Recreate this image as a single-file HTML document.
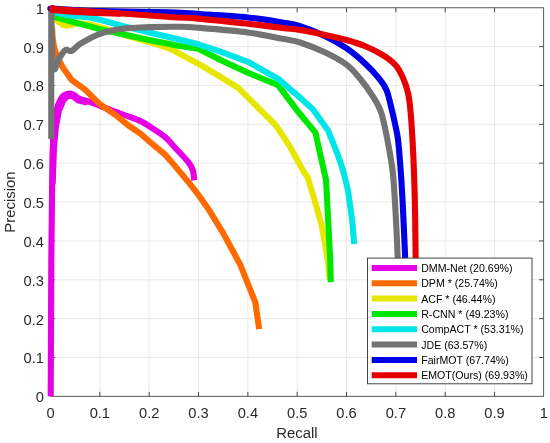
<!DOCTYPE html>
<html><head><meta charset="utf-8"><title>Precision-Recall</title>
<style>html,body{margin:0;padding:0;background:#fff}body{width:550px;height:443px;position:relative;overflow:hidden;font-family:"Liberation Sans",sans-serif}svg text{font-family:"Liberation Sans",sans-serif}</style></head>
<body>
<svg width="550" height="443" viewBox="0 0 550 443" style="position:absolute;left:0;top:0">
<rect width="550" height="443" fill="#fff"/>
<path d="M99.84 7.75V396.35M50.50 357.49H543.60M149.18 7.75V396.35M50.50 318.63H543.60M198.52 7.75V396.35M50.50 279.77H543.60M247.86 7.75V396.35M50.50 240.91H543.60M297.20 7.75V396.35M50.50 202.05H543.60M346.54 7.75V396.35M50.50 163.19H543.60M395.88 7.75V396.35M50.50 124.33H543.60M445.22 7.75V396.35M50.50 85.47H543.60M494.56 7.75V396.35M50.50 46.61H543.60" stroke="#e6e6e6" stroke-width="0.9" fill="none"/>
<rect x="50.50" y="7.75" width="493.10" height="388.60" fill="none" stroke="#5a5a5a" stroke-width="1"/>
<path d="M99.84 396.35v-4.5M99.84 7.75v4.5M50.50 357.49h4.5M543.60 357.49h-4.5M149.18 396.35v-4.5M149.18 7.75v4.5M50.50 318.63h4.5M543.60 318.63h-4.5M198.52 396.35v-4.5M198.52 7.75v4.5M50.50 279.77h4.5M543.60 279.77h-4.5M247.86 396.35v-4.5M247.86 7.75v4.5M50.50 240.91h4.5M543.60 240.91h-4.5M297.20 396.35v-4.5M297.20 7.75v4.5M50.50 202.05h4.5M543.60 202.05h-4.5M346.54 396.35v-4.5M346.54 7.75v4.5M50.50 163.19h4.5M543.60 163.19h-4.5M395.88 396.35v-4.5M395.88 7.75v4.5M50.50 124.33h4.5M543.60 124.33h-4.5M445.22 396.35v-4.5M445.22 7.75v4.5M50.50 85.47h4.5M543.60 85.47h-4.5M494.56 396.35v-4.5M494.56 7.75v4.5M50.50 46.61h4.5M543.60 46.61h-4.5" stroke="#4a4a4a" stroke-width="1" fill="none"/>
<clipPath id="c"><rect x="46.90" y="3.75" width="499.40" height="393.20"/></clipPath>
<g clip-path="url(#c)" fill="none" stroke-linejoin="round" stroke-linecap="butt">
<path d="M52.72 182.62 L53.95 147.65 L55.93 126.27 L58.89 110.73 L63.33 100.24 L68.26 95.57 L73.20 96.35 L78.13 100.24 L85.04 102.18" stroke="#e600e6" stroke-width="6.1" stroke-linecap="round"/>
<path d="M50.70 396.35 L51.29 260.34 L52.47 155.42 L53.71 127.44 L55.68 115.00 C56.05 113.38 56.71 108.40 57.90 105.29 C59.09 102.18 61.11 98.29 62.84 96.35 C64.56 94.41 66.54 93.95 68.26 93.63 C69.99 93.31 71.63 93.70 73.20 94.41 C74.76 95.12 76.24 97.06 77.64 97.91 C79.03 98.75 79.45 98.75 81.58 99.46 C83.72 100.17 87.44 101.14 90.47 102.18 C93.49 103.22 95.55 104.06 99.74 105.68 C103.94 107.30 110.93 110.13 115.63 111.89 C120.33 113.66 123.77 114.69 127.96 116.25 C132.16 117.80 137.22 119.55 140.79 121.22 C144.36 122.89 145.22 123.55 149.38 126.27 C153.53 128.99 161.38 133.92 165.71 137.54 C170.03 141.17 171.63 144.02 175.33 148.03 C179.03 152.05 184.99 157.94 187.91 161.64 C190.83 165.33 191.80 167.08 192.85 170.18 C193.89 173.29 193.96 178.60 194.18 180.29" stroke="#e600e6" stroke-width="6.1"/>
<path d="M51.98 27.18 L52.72 38.84 L53.95 46.61 L55.93 53.60 L62.84 67.59 L71.72 80.03 L85.38 89.90 L99.74 104.12 L115.53 115.00 L127.96 125.11 L140.64 133.77 L149.38 141.43 L165.71 155.18 L175.33 166.38 L187.91 181.45 L198.67 195.21 L209.28 210.29 L223.19 233.14 L240.46 265.08 L255.41 302.70 L259.16 329.12" stroke="#ff6a00" stroke-width="6.1"/>
<path d="M51.49 13.58 L56.42 20.19 L62.84 24.85 L66.78 25.63 L72.70 24.46 L77.64 23.29 L89.97 24.46 L99.84 27.18 L124.51 34.95 L149.18 41.95 L170.40 48.75 L202.96 66.43 L237.99 87.69 L260.59 110.26 L275.74 125.11 L289.11 145.31 L302.87 170.30 L307.81 177.57 L315.31 202.59 L321.62 225.21 L325.32 245.18 L327.79 260.34 L329.76 279.77" stroke="#e6e600" stroke-width="6.1"/>
<path d="M51.49 11.64 L55.43 17.08 L67.77 20.57 L89.97 26.40 L99.84 29.32 L149.18 40.00 L178.29 45.83 L198.52 48.75 L220.53 60.06 L247.86 72.65 L278.15 85.16 L296.71 109.95 L315.46 132.65 L320.39 155.18 L326.06 180.02 L327.79 212.62 L329.07 237.80 L330.26 260.34 L330.75 282.10" stroke="#00e600" stroke-width="6.1"/>
<path d="M51.49 9.69 L56.42 12.80 L67.77 15.13 L89.97 17.47 L99.84 19.80 L124.51 26.40 L149.18 32.43 L178.29 39.23 L198.52 44.28 L220.53 51.66 L247.86 61.77 L278.15 78.86 L297.20 95.19 L312.84 109.17 L327.94 130.16 L337.95 155.18 L343.04 170.30 L347.92 190.00 L352.46 222.65 L354.19 244.02" stroke="#00e6e6" stroke-width="6.1"/>
<path d="M51.24 139.10 L51.24 9.69 L52.47 69.93 L54.94 69.15 L58.89 58.66 C59.96 57.23 63.16 51.40 65.30 50.11 C67.44 48.81 69.25 51.92 71.72 50.88 C74.18 49.85 75.42 46.74 80.10 43.89 C84.79 41.04 92.69 36.31 99.84 33.79 C106.99 31.26 114.81 29.85 123.03 28.73 C131.25 27.62 139.97 27.43 149.18 27.10 C158.39 26.78 170.07 26.68 178.29 26.79 C186.51 26.90 186.93 26.82 198.52 27.76 C210.11 28.71 233.88 30.62 247.86 32.46 C261.84 34.31 273.68 37.17 282.40 38.84 C291.11 40.51 293.01 40.20 300.16 42.49 C307.31 44.78 317.59 48.86 325.32 52.56 C333.05 56.25 340.70 60.26 346.54 64.68 C352.38 69.10 355.96 73.78 360.36 79.06 C364.75 84.34 369.55 91.15 372.89 96.35 C376.23 101.55 378.47 105.47 380.39 110.26 C382.30 115.06 382.89 118.46 384.38 125.11 C385.88 131.76 387.92 141.86 389.37 150.17 C390.81 158.49 392.03 164.60 393.07 175.00 C394.10 185.41 394.83 199.24 395.58 212.62 C396.34 226.00 397.15 244.10 397.61 255.29 C398.07 266.48 398.22 275.69 398.35 279.77" stroke="#737373" stroke-width="6.1"/>
<path d="M50.50 7.75 L52.47 8.53 C56.26 8.79 67.28 9.66 75.17 10.08 C83.06 10.50 83.97 10.66 99.84 11.05 C115.71 11.44 153.95 11.93 170.40 12.41 C186.84 12.90 185.61 13.13 198.52 13.97 C211.43 14.81 233.88 16.04 247.86 17.47 C261.84 18.89 273.68 21.07 282.40 22.52 C291.11 23.97 293.01 23.88 300.16 26.17 C307.31 28.46 317.59 32.58 325.32 36.27 C333.05 39.97 339.88 43.79 346.54 48.36 C353.20 52.93 359.99 58.82 365.29 63.71 C370.59 68.60 374.83 73.29 378.36 77.70 C381.90 82.10 384.24 84.71 386.51 90.13 C388.77 95.56 390.49 104.56 391.93 110.26 C393.37 115.96 394.11 119.34 395.14 124.33 C396.17 129.32 397.18 132.52 398.10 140.18 C399.02 147.85 399.93 160.31 400.67 170.30 C401.41 180.29 401.81 185.94 402.54 200.11 C403.27 214.27 404.52 242.01 405.06 255.29 C405.59 268.57 405.63 275.69 405.75 279.77" stroke="#0000e6" stroke-width="6.1"/>
<circle cx="50.01" cy="8.53" r="2.7" fill="#0000e6" stroke="none"/>
<path d="M52.47 9.89 L65.30 11.25 L89.97 12.61 L119.58 13.58" stroke="#e60000" stroke-width="6.1" stroke-linecap="round"/>
<circle cx="52.47" cy="8.33" r="3.4" fill="#e60000" stroke="none"/>
<path d="M50.50 7.75 L52.47 8.92 C60.37 9.43 80.19 10.68 99.84 12.02 C119.49 13.37 153.95 15.86 170.40 16.96 C186.84 18.06 185.61 17.51 198.52 18.63 C211.43 19.75 233.88 22.13 247.86 23.68 C261.84 25.24 273.68 26.91 282.40 27.96 C291.11 29.01 293.01 28.81 300.16 29.98 C307.31 31.14 317.59 33.28 325.32 34.95 C333.05 36.62 339.88 38.13 346.54 40.00 C353.20 41.88 359.23 43.70 365.29 46.22 C371.35 48.75 377.89 52.02 382.90 55.16 C387.92 58.30 392.05 61.31 395.39 65.07 C398.73 68.82 400.85 73.10 402.94 77.70 C405.02 82.30 406.67 87.23 407.92 92.66 C409.17 98.09 409.58 100.71 410.44 110.26 C411.29 119.82 412.32 135.00 413.05 149.98 C413.78 164.95 414.40 182.56 414.83 200.11 C415.25 217.66 415.44 242.01 415.62 255.29 C415.79 268.57 415.82 275.69 415.86 279.77" stroke="#e60000" stroke-width="6.1"/>
</g>
<rect x="367.5" y="258.1" width="164.50" height="125.70" fill="#fff" stroke="#333" stroke-width="0.9"/>
<path d="M371.7 267.90H417" stroke="#e600e6" stroke-width="6.0" fill="none"/>
<text x="421.2" y="272.00" font-size="10.62" fill="#000">DMM-Net (20.69%)</text>
<path d="M371.7 283.24H417" stroke="#ff6a00" stroke-width="6.0" fill="none"/>
<text x="421.2" y="287.34" font-size="10.62" fill="#000">DPM * (25.74%)</text>
<path d="M371.7 298.59H417" stroke="#e6e600" stroke-width="6.0" fill="none"/>
<text x="421.2" y="302.69" font-size="10.62" fill="#000">ACF * (46.44%)</text>
<path d="M371.7 313.93H417" stroke="#00e600" stroke-width="6.0" fill="none"/>
<text x="421.2" y="318.03" font-size="10.62" fill="#000">R-CNN * (49.23%)</text>
<path d="M371.7 329.27H417" stroke="#00e6e6" stroke-width="6.0" fill="none"/>
<text x="421.2" y="333.37" font-size="10.62" fill="#000">CompACT * (53.31%)</text>
<path d="M371.7 344.61H417" stroke="#737373" stroke-width="6.0" fill="none"/>
<text x="421.2" y="348.71" font-size="10.62" fill="#000">JDE (63.57%)</text>
<path d="M371.7 359.96H417" stroke="#0000e6" stroke-width="6.0" fill="none"/>
<text x="421.2" y="364.06" font-size="10.62" fill="#000">FairMOT (67.74%)</text>
<path d="M371.7 375.30H417" stroke="#e60000" stroke-width="6.0" fill="none"/>
<text x="421.2" y="379.40" font-size="10.62" fill="#000">EMOT(Ours) (69.93%)</text>
<text x="50.50" y="417.8" font-size="14.7" fill="#2a2a2a" text-anchor="middle">0</text>
<text x="44" y="402.35" font-size="14.7" fill="#2a2a2a" text-anchor="end">0</text>
<text x="99.84" y="417.8" font-size="14.7" fill="#2a2a2a" text-anchor="middle">0.1</text>
<text x="44" y="363.49" font-size="14.7" fill="#2a2a2a" text-anchor="end">0.1</text>
<text x="149.18" y="417.8" font-size="14.7" fill="#2a2a2a" text-anchor="middle">0.2</text>
<text x="44" y="324.63" font-size="14.7" fill="#2a2a2a" text-anchor="end">0.2</text>
<text x="198.52" y="417.8" font-size="14.7" fill="#2a2a2a" text-anchor="middle">0.3</text>
<text x="44" y="285.77" font-size="14.7" fill="#2a2a2a" text-anchor="end">0.3</text>
<text x="247.86" y="417.8" font-size="14.7" fill="#2a2a2a" text-anchor="middle">0.4</text>
<text x="44" y="246.91" font-size="14.7" fill="#2a2a2a" text-anchor="end">0.4</text>
<text x="297.20" y="417.8" font-size="14.7" fill="#2a2a2a" text-anchor="middle">0.5</text>
<text x="44" y="208.05" font-size="14.7" fill="#2a2a2a" text-anchor="end">0.5</text>
<text x="346.54" y="417.8" font-size="14.7" fill="#2a2a2a" text-anchor="middle">0.6</text>
<text x="44" y="169.19" font-size="14.7" fill="#2a2a2a" text-anchor="end">0.6</text>
<text x="395.88" y="417.8" font-size="14.7" fill="#2a2a2a" text-anchor="middle">0.7</text>
<text x="44" y="130.33" font-size="14.7" fill="#2a2a2a" text-anchor="end">0.7</text>
<text x="445.22" y="417.8" font-size="14.7" fill="#2a2a2a" text-anchor="middle">0.8</text>
<text x="44" y="91.47" font-size="14.7" fill="#2a2a2a" text-anchor="end">0.8</text>
<text x="494.56" y="417.8" font-size="14.7" fill="#2a2a2a" text-anchor="middle">0.9</text>
<text x="44" y="52.61" font-size="14.7" fill="#2a2a2a" text-anchor="end">0.9</text>
<text x="543.90" y="417.8" font-size="14.7" fill="#2a2a2a" text-anchor="middle">1</text>
<text x="44" y="13.75" font-size="14.7" fill="#2a2a2a" text-anchor="end">1</text>
<text x="297" y="437.7" font-size="14.9" fill="#2a2a2a" text-anchor="middle">Recall</text>
<text transform="translate(15,202) rotate(-90)" font-size="14.9" fill="#2a2a2a" text-anchor="middle">Precision</text>
</svg>
</body></html>
